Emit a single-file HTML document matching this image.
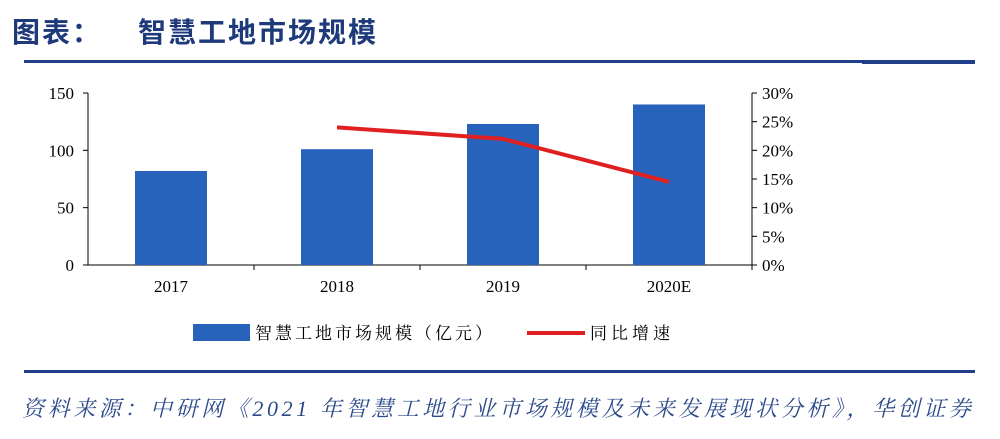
<!DOCTYPE html>
<html><head><meta charset="utf-8"><style>
body{margin:0;width:1000px;height:439px;background:#fff;overflow:hidden;position:relative;font-family:"Liberation Serif","Noto Serif CJK SC",serif}
.t{position:absolute;top:11px;font-family:"Liberation Sans","Noto Sans CJK SC",sans-serif;font-weight:bold;font-size:28px;color:#1f3a7a;white-space:pre;letter-spacing:2px}
.src{position:absolute;left:22px;top:392px;font-size:22px;font-style:italic;color:#2b4a8a;white-space:nowrap;letter-spacing:3.6px;font-family:"Liberation Serif","Noto Serif CJK SC",serif}
</style></head><body>
<div class="t" style="left:12px">图表：</div>
<div class="t" style="left:138px">智慧工地市场规模</div>
<div style="position:absolute;left:24px;top:60px;width:951px;height:3px;background:#1f3f8a"></div>
<div style="position:absolute;left:862px;top:60px;width:113px;height:4px;background:#1f3f8a"></div>
<svg id="c" width="1000" height="439" style="position:absolute;left:0;top:0"></svg>
<div style="position:absolute;left:24px;top:370px;width:951px;height:3px;background:#1f3f8a"></div>
<div class="src">资料来源：中研网《2021 年智慧工地行业市场规模及未来发展现状分析》，华创证券</div>
<script>
const categories=["2017","2018","2019","2020E"];
const marketSize=[82,101,123,140];
const growth=[null,24,22,14.5];
const leftTicks=[0,50,100,150];
const rightTicks=[0,5,10,15,20,25,30];
const svg=document.getElementById('c');const NS="http://www.w3.org/2000/svg";
function el(t,a,p){const e=document.createElementNS(NS,t);for(const k in a)e.setAttribute(k,a[k]);(p||svg).appendChild(e);return e;}
const x0=88,x1=752,yTop=93,yBot=265;
const yL=v=>yBot-(v/150)*(yBot-yTop);
const yR=v=>yBot-(v/30)*(yBot-yTop);
const bw=(x1-x0)/categories.length;
const xc=i=>x0+bw*(i+0.5);
let e;
e=el('line',{x1:x0,y1:yTop,x2:x0,y2:yBot,stroke:'#000'});
e=el('line',{x1:x1,y1:yTop,x2:x1,y2:yBot,stroke:'#000'});
e=el('line',{x1:x0,y1:yBot,x2:x1,y2:yBot,stroke:'#000'});
leftTicks.forEach(v=>{el('line',{x1:x0-5,y1:yL(v),x2:x0,y2:yL(v),stroke:'#000'});
e=el('text',{x:x0-14,y:yL(v)+6,'text-anchor':'end','font-size':17,fill:'#000'});e.textContent=v;});
rightTicks.forEach(v=>{el('line',{x1:x1,y1:yR(v),x2:x1+5,y2:yR(v),stroke:'#000'});
e=el('text',{x:x1+10,y:yR(v)+6,'font-size':17,fill:'#000'});e.textContent=v+'%';});
categories.forEach((c,i)=>{
el('line',{x1:x0+bw*(i+1),y1:yBot,x2:x0+bw*(i+1),y2:yBot+5,stroke:'#000'});
e=el('rect',{x:xc(i)-36,y:yL(marketSize[i]),width:72,height:yBot-yL(marketSize[i]),fill:'#2763bb'});
e=el('text',{x:xc(i),y:yBot+27,'text-anchor':'middle','font-size':17,fill:'#000'});e.textContent=c;
});
const pts=growth.map((g,i)=>g==null?null:xc(i)+','+yR(g)).filter(Boolean).join(' ');
e=el('polyline',{points:pts,fill:'none',stroke:'#e02020','stroke-width':4});
e=el('rect',{x:193,y:324,width:57,height:17,fill:'#2763bb'});
e=el('text',{x:255,y:339,'font-size':17,'letter-spacing':3,fill:'#000'});e.textContent='智慧工地市场规模（亿元）';
e=el('line',{x1:527,y1:333,x2:585,y2:333,stroke:'#e02020','stroke-width':4});
e=el('text',{x:590,y:339,'font-size':17,'letter-spacing':4,fill:'#000'});e.textContent='同比增速';
</script>
</body></html>
